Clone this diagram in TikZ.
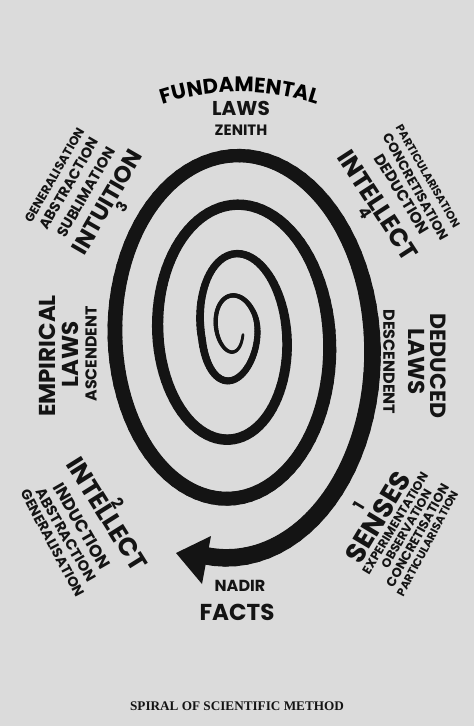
\documentclass[tikz,border=0pt]{standalone}
\usepackage{fontspec}
\setmainfont{Liberation Serif}
\newfontfamily\popfont{Poppins}
\usetikzlibrary{decorations.text}

\definecolor{paper}{gray}{0.86}
\definecolor{ink}{gray}{0.08}

\tikzset{
  word/.style={font=\popfont\bfseries\fontsize{#1}{#1}\selectfont, text=ink, inner sep=0pt},
  coil/.style={draw=ink, line cap=round},
}
\newcommand{\fundfont}{\popfont\bfseries\fontsize{21}{21}\selectfont}

\begin{document}
\begin{tikzpicture}[x=1pt, y=-1pt,
  declare function={
    spa(\s)=max(0.119*\s-32,10+0.04*\s);
    spb(\s)=max(0.1505*\s-17,26+0.02*\s);
    spx(\s)=233+spa(\s)*cos(\s);
    spy(\s)=323+0.014*\s+spb(\s)*sin(\s);
    spw(\s)=(2.5+0.0098*\s)*(1-0.15*max(0,-sin(\s)));}]
  % Page
  \fill[paper] (0,0) rectangle (474,726);
  \useasboundingbox (0,0) rectangle (474,726);

  % Spiral, getting thicker outwards
  \foreach \t in {25,29,...,1537}
    \draw[coil, line width=spw(\t)] ({spx(\t)},{spy(\t)}) -- ({spx(\t+4)},{spy(\t+4)});
  \coordinate (tip) at (176,553);
  \fill[ink] (tip) -- (211,536) -- (202,584) -- cycle;

  % Top and bottom
  \path[decorate, decoration={text along path, text align=center, text={|\fundfont|FUNDAMENTAL}}]
    (240,342) ++(250:250) arc[start angle=250, end angle=290, radius=250];
  \node[word=20] (laws) at (241,108) {LAWS};
  \node[word=15] (zenith) at (241,130) {ZENITH};
  \node[word=16] (nadir) at (240,586) {NADIR};
  \node[word=23] (facts) at (237,612) {FACTS};
  \node[font=\bfseries\fontsize{13.2}{13.2}\selectfont, text=ink, inner sep=0pt] (title) at (237,706) {SPIRAL OF SCIENTIFIC METHOD};

  % Upper left
  \begin{scope}[shift={(107,202)}, rotate=60, transform shape]
    \node[word=23] (intuition) at (0,0) {INTUITION};
    \node[word=15] (three) at (3,15.5) {3};
    \node[word=14.8] (subl) at (-2,-23) {SUBLIMATION};
    \node[word=14.4] (abs1) at (-3,-42) {ABSTRACTION};
    \node[word=12.5] (gen1) at (-3,-59) {GENERALISATION};
  \end{scope}

  % Upper right
  \begin{scope}[shift={(378,205)}, rotate=-57, transform shape]
    \node[word=25] (intellect1) at (0,0) {INTELLECT};
    \node[word=16] (four) at (0,15.3) {4};
    \node[word=15.4, rotate=-2] (ded) at (4,-26) {DEDUCTION};
    \node[word=13.5, rotate=-4] (conc1) at (5,-41.5) {CONCRETISATION};
    \node[word=11.3, rotate=-3] (part1) at (3,-57.5) {PARTICULARISATION};
  \end{scope}

  % Middle
  \node[word=23, rotate=90] (empirical) at (47,356) {EMPIRICAL};
  \node[word=23, rotate=90] (laws1) at (70,354) {LAWS};
  \node[word=15.8, rotate=90] (asc) at (91,354) {ASCENDENT};
  \node[word=22, rotate=-90] (deduced) at (438,366) {DEDUCED};
  \node[word=23, rotate=-90] (laws2) at (417,362) {LAWS};
  \node[word=16, rotate=-90] (desc) at (389,362) {DESCENDENT};

  % Lower left
  \begin{scope}[shift={(107,514)}, rotate=-58, transform shape]
    \node[word=25.5] (intellect2) at (0,0) {INTELLECT};
    \node[word=16] (two) at (-3.5,-15) {2};
    \node[word=17, rotate=-2] (ind) at (-3,27.6) {INDUCTION};
    \node[word=14.7, rotate=-2] (abs2) at (-4,46) {ABSTRACTION};
    \node[word=14, rotate=-4] (gen2) at (-4,61.5) {GENERALISATION};
  \end{scope}

  % Lower right
  \begin{scope}[shift={(378,517)}, rotate=59, transform shape]
    \node[word=27.5] (senses) at (0,0) {SENSES};
    \node[word=16] (one) at (0,-22) {1};
    \node[word=12.4] (exp) at (3.5,18) {EXPERIMENTATION};
    \node[word=12.4, rotate=1] (obs) at (4.5,30.5) {OBSERVATION};
    \node[word=13, rotate=2] (conc2) at (4.4,43.5) {CONCRETISATION};
    \node[word=11.4, rotate=3] (part2) at (2.8,56) {PARTICULARISATION};
  \end{scope}
\end{tikzpicture}
\end{document}
